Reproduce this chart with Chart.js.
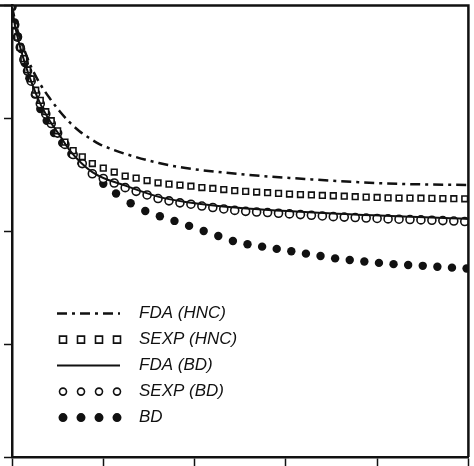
<!DOCTYPE html>
<html>
<head>
<meta charset="utf-8">
<script src="https://cdn.jsdelivr.net/npm/chart.js@4.4.1/dist/chart.umd.min.js"></script>
<style>
  html, body { margin: 0; padding: 0; background: #fff; }
  canvas { display: block; }
</style>
</head>
<body>
<canvas id="myChart" width="474" height="466"></canvas>
<script>
// series names, as in the legend
const seriesNames = ["FDA (HNC)", "SEXP (HNC)", "FDA (BD)", "SEXP (BD)", "BD"];

// axis ticks (no labels in the original, only tick marks)
const xTicks = [0, 1, 2, 3, 4, 5];
const yTicks = [0, 1, 2, 3, 4];

// FDA (HNC) - dash-dot line
const fdaHncX = [0, 0.054, 0.141, 0.217, 0.304, 0.413, 0.522, 0.63, 0.739, 0.848, 0.957, 1.12, 1.25, 1.609, 1.902, 2.478, 3.207, 3.75, 4.293, 5];
const fdaHncY = [3.99, 3.797, 3.594, 3.444, 3.311, 3.179, 3.064, 2.967, 2.887, 2.826, 2.773, 2.72, 2.684, 2.605, 2.561, 2.508, 2.464, 2.437, 2.419, 2.411];

// FDA (BD) - solid line
const fdaBdX = [0, 0.033, 0.087, 0.141, 0.196, 0.304, 0.413, 0.522, 0.63, 0.88, 1.25, 1.609, 1.902, 2.478, 3.565, 5];
const fdaBdY = [3.99, 3.82, 3.64, 3.49, 3.36, 3.14, 2.98, 2.85, 2.72, 2.525, 2.402, 2.305, 2.26, 2.208, 2.155, 2.11];

// SEXP markers share one x grid
const sexpX = [0, 0.03, 0.06, 0.09, 0.13, 0.17, 0.21, 0.26, 0.31, 0.37, 0.43, 0.5, 0.58, 0.67, 0.77, 0.88,
  1.0, 1.12, 1.24, 1.36, 1.48, 1.6, 1.72, 1.84, 1.96, 2.08, 2.2, 2.32, 2.44, 2.56, 2.68, 2.8, 2.92,
  3.04, 3.16, 3.28, 3.4, 3.52, 3.64, 3.76, 3.88, 4.0, 4.12, 4.24, 4.36, 4.48, 4.6, 4.72, 4.84, 4.96];
const sexpHncY = [3.99, 3.83, 3.72, 3.63, 3.53, 3.43, 3.35, 3.25, 3.16, 3.06, 2.98, 2.89, 2.79, 2.715, 2.66, 2.6,
  2.56, 2.525, 2.49, 2.471, 2.45, 2.43, 2.418, 2.41, 2.4, 2.388, 2.38, 2.37, 2.36, 2.354, 2.348, 2.342, 2.336,
  2.33, 2.326, 2.322, 2.318, 2.315, 2.311, 2.307, 2.303, 2.3, 2.296, 2.295, 2.294, 2.293, 2.292, 2.29, 2.289, 2.288];
const sexpBdY = [3.99, 3.83, 3.72, 3.63, 3.52, 3.42, 3.33, 3.22, 3.13, 3.04, 2.955, 2.87, 2.77, 2.68, 2.6, 2.51,
  2.468, 2.428, 2.387, 2.354, 2.322, 2.29, 2.27, 2.252, 2.24, 2.224, 2.211, 2.198, 2.185, 2.177, 2.171, 2.166, 2.16,
  2.154, 2.148, 2.142, 2.136, 2.13, 2.126, 2.122, 2.118, 2.114, 2.11, 2.107, 2.104, 2.101, 2.098, 2.095, 2.091, 2.087];

// BD - filled dots
const bdX = [0, 0.03, 0.065, 0.1, 0.14, 0.19, 0.25, 0.31, 0.38, 0.46, 0.55, 0.65, 0.76, 0.88, 1.0, 1.14, 1.3, 1.46, 1.62,
  1.78, 1.94, 2.1, 2.26, 2.42, 2.58, 2.74, 2.9, 3.06, 3.22, 3.38, 3.54, 3.7, 3.86, 4.02, 4.18, 4.34, 4.5, 4.66, 4.82, 4.98];
const bdY = [3.99, 3.85, 3.726, 3.616, 3.49, 3.357, 3.211, 3.083, 2.98, 2.87, 2.782, 2.685, 2.602, 2.51, 2.421, 2.335, 2.248, 2.18, 2.134,
  2.092, 2.048, 2.003, 1.959, 1.914, 1.885, 1.864, 1.844, 1.823, 1.802, 1.781, 1.76, 1.746, 1.733, 1.72, 1.709, 1.702, 1.694, 1.686, 1.678, 1.67];

const ink = "#111";

function pts(xs, ys) {
  return xs.map((x, i) => ({ x: x, y: ys[i] }));
}

// frame on top and right, plus the legend drawn inside the plot
const framePlugin = {
  id: "frame",
  afterDraw(chart) {
    const { ctx, chartArea } = chart;
    ctx.save();
    ctx.strokeStyle = ink;
    ctx.lineWidth = 2.5;
    ctx.beginPath();
    ctx.moveTo(0, chartArea.top);
    ctx.lineTo(chartArea.right, chartArea.top);
    ctx.lineTo(chartArea.right, chartArea.bottom);
    ctx.stroke();

    const sx = chartArea.left + 45;
    const sw = 63;
    const tx = chartArea.left + 127;
    const markX = [63, 81, 99, 117];
    chart.data.datasets.forEach((ds, i) => {
      const y = chartArea.top + 308 + i * 26;
      ctx.strokeStyle = ink;
      ctx.fillStyle = ink;
      if (ds.showLine) {
        ctx.lineWidth = ds.borderWidth;
        ctx.setLineDash(ds.borderDash || []);
        ctx.beginPath();
        ctx.moveTo(sx, y);
        ctx.lineTo(sx + sw, y);
        ctx.stroke();
        ctx.setLineDash([]);
      } else {
        markX.forEach((mx) => {
          ctx.lineWidth = ds.pointBorderWidth;
          ctx.fillStyle = ds.pointBackgroundColor;
          ctx.beginPath();
          if (ds.pointStyle === "rect") {
            ctx.rect(mx - 3.5, y - 3.5, 7, 7);
          } else {
            ctx.arc(mx, y, ds.pointRadius - 0.5, 0, Math.PI * 2);
          }
          ctx.fill();
          ctx.stroke();
        });
      }
      ctx.fillStyle = ink;
      ctx.font = 'italic 17px "Liberation Sans", Arial, sans-serif';
      ctx.textBaseline = "middle";
      ctx.fillText(seriesNames[i], tx, y);
    });
    ctx.restore();
  }
};

const ctx = document.getElementById("myChart");

new Chart(ctx, {
  type: "scatter",
  data: {
    datasets: [
      {
        label: seriesNames[0],
        data: pts(fdaHncX, fdaHncY),
        showLine: true,
        borderColor: ink,
        borderWidth: 2.5,
        borderDash: [10, 5, 3, 5],
        cubicInterpolationMode: "monotone",
        pointRadius: 0,
        order: 1,
      },
      {
        label: seriesNames[1],
        data: pts(sexpX, sexpHncY),
        showLine: false,
        pointStyle: "rect",
        pointRadius: 4,
        pointBorderWidth: 1.6,
        pointBorderColor: ink,
        pointBackgroundColor: "#fff",
        order: 3,
      },
      {
        label: seriesNames[2],
        data: pts(fdaBdX, fdaBdY),
        showLine: true,
        borderColor: ink,
        borderWidth: 2,
        cubicInterpolationMode: "monotone",
        pointRadius: 0,
        order: 2,
      },
      {
        label: seriesNames[3],
        data: pts(sexpX, sexpBdY),
        showLine: false,
        pointStyle: "circle",
        pointRadius: 4,
        pointBorderWidth: 1.6,
        pointBorderColor: ink,
        pointBackgroundColor: "#fff",
        order: 4,
      },
      {
        label: seriesNames[4],
        data: pts(bdX, bdY),
        showLine: false,
        pointStyle: "circle",
        pointRadius: 4.2,
        pointBorderWidth: 0,
        pointBorderColor: ink,
        pointBackgroundColor: ink,
        order: 5,
      },
    ],
  },
  options: {
    responsive: false,
    animation: false,
    layout: { padding: { left: 4, top: 4, right: 2, bottom: 0 } },
    scales: {
      x: {
        type: "linear",
        min: 0,
        max: 5,
        afterBuildTicks: (axis) => { axis.ticks = xTicks.map((v) => ({ value: v })); },
        ticks: { display: false },
        grid: { drawOnChartArea: false, drawTicks: true, tickLength: 9, tickColor: ink, tickWidth: 1.5 },
        border: { display: true, color: ink, width: 2.5 },
      },
      y: {
        type: "linear",
        min: 0,
        max: 4,
        afterBuildTicks: (axis) => { axis.ticks = yTicks.map((v) => ({ value: v })); },
        ticks: { display: false },
        grid: { drawOnChartArea: false, drawTicks: true, tickLength: 8, tickColor: ink, tickWidth: 1.5 },
        border: { display: true, color: ink, width: 2.5 },
      },
    },
    plugins: {
      legend: { display: false },
      tooltip: { enabled: false },
    },
  },
  plugins: [framePlugin],
});
</script>
</body>
</html>
